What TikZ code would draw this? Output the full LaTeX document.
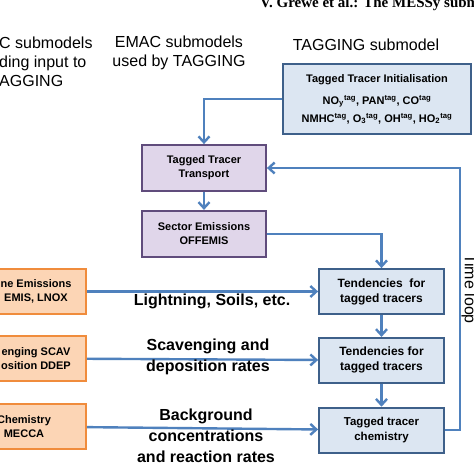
\documentclass[tikz,border=0pt]{standalone}
\usepackage{fontspec}
\setmainfont{Liberation Sans}
\newfontfamily\hdrfont{Liberation Serif}
\usetikzlibrary{arrows.meta,positioning}
\definecolor{flowblue}{RGB}{79,129,189}
\definecolor{tagfill}{RGB}{220,230,242}
\definecolor{tagdraw}{RGB}{62,96,138}
\definecolor{emacfill}{RGB}{224,214,234}
\definecolor{emacdraw}{RGB}{96,76,124}
\definecolor{infill}{RGB}{252,213,181}
\definecolor{indraw}{RGB}{240,140,60}
\begin{document}
\begin{tikzpicture}[x=1pt, y=-1pt,
  tagbox/.style = {draw=tagdraw, fill=tagfill, line width=1.8pt, align=center, inner sep=0pt, minimum width=125pt, minimum height=45pt, font=\bfseries\fontsize{11}{14}\selectfont},
  tendbox/.style = {tagbox, font=\bfseries\fontsize{12}{15}\selectfont},
  emacbox/.style = {tagbox, draw=emacdraw, fill=emacfill, minimum width=124pt, minimum height=46pt},
  inbox/.style = {tagbox, draw=indraw, fill=infill},
  flow/.style = {draw=flowblue, line width=2.4pt, -{Straight Barb[length=6pt,width=11pt]}},
  head/.style = {align=center, inner sep=0pt, font=\fontsize{16}{19}\selectfont},
  lbl/.style = {align=center, inner sep=0pt, font=\bfseries\fontsize{16}{21}\selectfont}]
\fill[white] (0,0) rectangle (474,474);
\useasboundingbox (0,0) rectangle (474,474);
\clip (0,0) rectangle (474,474);

% headings
\node[anchor=base west, inner sep=0pt, font=\hdrfont\bfseries\fontsize{15}{16}\selectfont] (hdr) at (260,7) {V. Grewe et al.: The MESSy subm};
\node[head, anchor=west, align=left] (hin) at (-1,61.5) {C submodels\\ding input to\\AGGING};
\node[head] (hemac) at (179,52.5) {EMAC submodels\\used by TAGGING};
\node[head] (htag) at (366,45) {TAGGING submodel};

% TAGGING and EMAC boxes
\node[tagbox, minimum width=188pt, minimum height=70pt] (init) at (377,99) {Tagged Tracer Initialisation\\[8pt]
  NO\textsubscript{y}\textsuperscript{tag}, PAN\textsuperscript{tag}, CO\textsuperscript{tag}\\[4pt]
  NMHC\textsuperscript{tag}, O\textsubscript{3}\textsuperscript{tag}, OH\textsuperscript{tag}, HO\textsubscript{2}\textsuperscript{tag}};
\node[emacbox] (trans) at (204,168) {Tagged Tracer\\Transport};
\node[emacbox] (sector) [below=18pt of trans] {Sector Emissions\\OFFEMIS};
\node[tendbox] (tend1) at (381.5,291.5) {Tendencies\ \ for\\tagged tracers};
\node[tendbox] (tend2) [below=22pt of tend1] {Tendencies for\\tagged tracers};
\node[tagbox, font=\bfseries\fontsize{11.5}{14.5}\selectfont] (tchem) [below=23pt of tend2] {Tagged tracer\\chemistry};

% input boxes
\node[inbox, minimum width=100pt] (emis) at (36,291.5) {ne Emissions\\EMIS, LNOX};
\node[inbox, minimum width=100pt] (scav) at (36,358.5) {enging SCAV\\osition DDEP};
\node[inbox, minimum width=124pt] (mecca) at (24,426.5) {Chemistry\\MECCA};

% flows
\draw[flow] (init.west) -| (trans.north);
\draw[flow] (trans) -- (sector);
\draw[flow] (sector.east) -| (tend1.north);
\draw[flow] (tend1) -- (tend2);
\draw[flow] (tend2) -- (tchem);
\draw[flow] (tchem.east) -- ++(15,0) |- (trans.east);
\draw[flow] (emis) -- (tend1);
\draw[flow] (scav) -- (tend2);
\draw[flow] (mecca) -- (tchem);

% labels
\node[lbl] (lblemis) at (212,301) {Lightning, Soils, etc.};
\node[lbl] (lblscav) at (208,356.5) {Scavenging and\\deposition rates};
\node[lbl] (lblchem) at (206,435.5) {Background\\concentrations\\and reaction rates};
\node[head, rotate=-90] (loop) at (469,289) {Time loop};
\end{tikzpicture}
\end{document}
